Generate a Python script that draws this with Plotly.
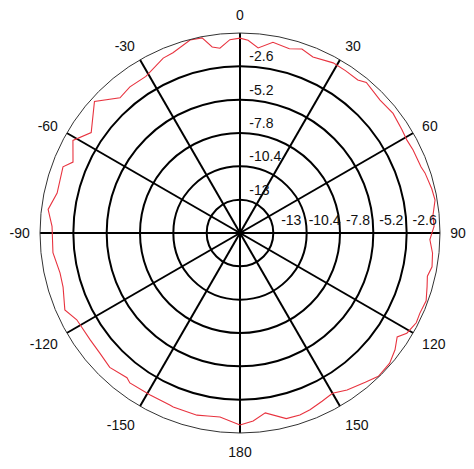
import plotly.graph_objects as go

# polar pattern (angle in degrees, level in dB)
angles = [-180, -173.8, -170, -166.7, -159, -157.8, -151, -143.7, -142, -135.9,
          -130.6, -125.5, -118, -113.7, -107, -102.5, -96, -88, -83, -77.7,
          -69.5, -67, -61, -56, -47.9, -41.6, -37, -31, -23.7, -20.4,
          -14.5, -11, -8.5, -6.2, -3, 0, 2.4, 5.6, 9.8, 15,
          18.6, 22.5, 28.7, 33, 37.6, 40, 46.5, 52, 57.5, 61,
          64.4, 70, 72, 77, 80.4, 85, 88, 92, 96, 100,
          103, 106, 110, 114, 117, 121, 123.5, 127, 131, 136,
          140, 145.7, 150, 154, 158.4, 161.8, 166, 172, 176, 180]
levels = [-0.62, -1.16, -1.1, -1.0, -1.07, -1.11, -1.15, -1.09, -1.28, -1.0,
          -1.2, -1.25, -1.18, -0.68, -1.17, -1.22, -0.93, -0.93, -0.52, -1.0,
          -0.86, -1.45, -0.7, -1.6, -0.3, -1.5, -1.33, -1.35, -0.7, -0.6,
          -0.05, -0.1, -0.93, -1.1, -0.5, -0.4, -0.55, -1.1, -0.5, -0.72,
          -0.46, -0.74, -0.47, -0.5, -0.54, -0.27, -0.54, -0.45, -0.62, -0.7,
          -0.63, -0.57, -0.43, -0.25, -0.17, -0.5, -0.45, -0.78, -0.5, -0.39,
          -0.6, -0.42, -0.15, -0.24, -0.17, -0.42, -0.9, -0.46, -0.13, -0.06,
          -0.4, -0.78, -1.17, -1.0, -0.77, -0.65, -0.68, -1.43, -0.9, -0.62]

ring_vals = [-13, -10.4, -7.8, -5.2, -2.6]
ring_text = ["-13", "-10.4", "-7.8", "-5.2", "-2.6"]
r_min, r_max = -15.6, 0

theta_vals = [0, 30, 60, 90, 120, 150, 180, 210, 240, 270, 300, 330]
theta_text = ["0", "30", "60", "90", "120", "150", "180",
              "-150", "-120", "-90", "-60", "-30"]

FONT = "Arial, Liberation Sans, sans-serif"
up_shift = 0.75     # labels on the vertical axis sit a bit outside their ring
right_shift = 1.4   # same for the horizontal axis
clear = "rgba(0,0,0,0)"

fig = go.Figure()
fig.add_trace(go.Scatterpolar(r=levels, theta=angles, mode="lines",
                              line=dict(color="#e8333f", width=1.1),
                              subplot="polar", showlegend=False))
fig.add_trace(go.Scatterpolar(r=[], theta=[], subplot="polar2", showlegend=False))
fig.add_trace(go.Scatterpolar(r=[], theta=[], subplot="polar3", showlegend=False))

full = dict(x=[0, 1], y=[0, 1])
hidden_ang = dict(visible=False, direction="clockwise", rotation=90)

fig.update_layout(
    width=474, height=469,
    # page body adds ~8px offset, so margins are shifted to keep the circle centred
    margin=dict(l=32, r=42, t=25, b=44),
    paper_bgcolor="white",
    font=dict(family=FONT, size=14, color="#111"),
    polar=dict(
        domain=full,
        bgcolor="white",
        radialaxis=dict(range=[r_min, r_max], tickvals=ring_vals,
                        showticklabels=False, ticks="", showline=False,
                        gridcolor="black", gridwidth=2),
        angularaxis=dict(direction="clockwise", rotation=90,
                         tickmode="array", tickvals=theta_vals, ticktext=theta_text,
                         ticks="outside", ticklen=7, tickcolor=clear,
                         gridcolor="black", gridwidth=2,
                         showline=True, linecolor="#333", linewidth=1,
                         tickfont=dict(size=14)),
    ),
    polar2=dict(
        domain=full,
        bgcolor=clear,
        radialaxis=dict(range=[r_min, r_max], angle=90, side="clockwise",
                        tickvals=[v + up_shift for v in ring_vals], ticktext=ring_text,
                        showgrid=False, showline=False, tickangle=90,
                        ticks="outside", ticklen=6, tickcolor=clear,
                        tickfont=dict(size=14)),
        angularaxis=hidden_ang,
    ),
    polar3=dict(
        domain=full,
        bgcolor=clear,
        radialaxis=dict(range=[r_min, r_max], angle=0, side="counterclockwise",
                        tickvals=[v + right_shift for v in ring_vals], ticktext=ring_text,
                        showgrid=False, showline=False, tickangle=0,
                        ticks="outside", ticklen=2, tickcolor=clear,
                        tickfont=dict(size=14)),
        angularaxis=hidden_ang,
    ),
)

fig.write_html("out.html")
